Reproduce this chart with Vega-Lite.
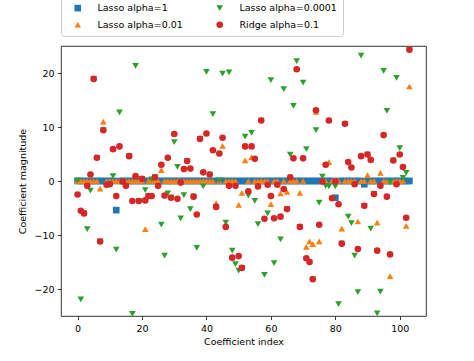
{
"$schema":"https://vega.github.io/schema/vega-lite/v6.json",
"autosize":{"type":"none"},
"width":365,"height":270,
"padding":{"left":61,"top":46,"right":48,"bottom":45},
"background":"white",
"config":{"font":"DejaVu Sans","view":{"stroke":"black","strokeWidth":0.8},
"axis":{"domain":false,"grid":false,"tickColor":"black","tickSize":3.5,"tickWidth":0.8,"labelFontSize":9.5,"labelColor":"black","labelFont":"DejaVu Sans","titleFont":"DejaVu Sans","titleFontSize":9.5,"titleFontWeight":"normal","titleColor":"black","labelPadding":3.5}},
"data":{"values":[
{"model":"Lasso alpha=1","feature":0,"coef":0},{"model":"Lasso alpha=1","feature":1,"coef":0},{"model":"Lasso alpha=1","feature":2,"coef":0},{"model":"Lasso alpha=1","feature":3,"coef":0},{"model":"Lasso alpha=1","feature":4,"coef":0},{"model":"Lasso alpha=1","feature":5,"coef":0},{"model":"Lasso alpha=1","feature":6,"coef":0},{"model":"Lasso alpha=1","feature":7,"coef":0},{"model":"Lasso alpha=1","feature":8,"coef":0},{"model":"Lasso alpha=1","feature":9,"coef":0},
{"model":"Lasso alpha=1","feature":10,"coef":0},{"model":"Lasso alpha=1","feature":11,"coef":0},{"model":"Lasso alpha=1","feature":12,"coef":-5.4},{"model":"Lasso alpha=1","feature":13,"coef":0},{"model":"Lasso alpha=1","feature":14,"coef":0},{"model":"Lasso alpha=1","feature":15,"coef":0},{"model":"Lasso alpha=1","feature":16,"coef":0},{"model":"Lasso alpha=1","feature":17,"coef":0},{"model":"Lasso alpha=1","feature":18,"coef":0},{"model":"Lasso alpha=1","feature":19,"coef":0},
{"model":"Lasso alpha=1","feature":20,"coef":0},{"model":"Lasso alpha=1","feature":21,"coef":0},{"model":"Lasso alpha=1","feature":22,"coef":0},{"model":"Lasso alpha=1","feature":23,"coef":0},{"model":"Lasso alpha=1","feature":24,"coef":0},{"model":"Lasso alpha=1","feature":25,"coef":0},{"model":"Lasso alpha=1","feature":26,"coef":0},{"model":"Lasso alpha=1","feature":27,"coef":0},{"model":"Lasso alpha=1","feature":28,"coef":0},{"model":"Lasso alpha=1","feature":29,"coef":0},
{"model":"Lasso alpha=1","feature":30,"coef":0},{"model":"Lasso alpha=1","feature":31,"coef":0},{"model":"Lasso alpha=1","feature":32,"coef":0},{"model":"Lasso alpha=1","feature":33,"coef":0},{"model":"Lasso alpha=1","feature":34,"coef":0},{"model":"Lasso alpha=1","feature":35,"coef":0},{"model":"Lasso alpha=1","feature":36,"coef":0},{"model":"Lasso alpha=1","feature":37,"coef":0},{"model":"Lasso alpha=1","feature":38,"coef":0},{"model":"Lasso alpha=1","feature":39,"coef":0},
{"model":"Lasso alpha=1","feature":40,"coef":0},{"model":"Lasso alpha=1","feature":41,"coef":0},{"model":"Lasso alpha=1","feature":42,"coef":0},{"model":"Lasso alpha=1","feature":43,"coef":0},{"model":"Lasso alpha=1","feature":44,"coef":0},{"model":"Lasso alpha=1","feature":45,"coef":0},{"model":"Lasso alpha=1","feature":46,"coef":0},{"model":"Lasso alpha=1","feature":47,"coef":0},{"model":"Lasso alpha=1","feature":48,"coef":0},{"model":"Lasso alpha=1","feature":49,"coef":0},
{"model":"Lasso alpha=1","feature":50,"coef":0},{"model":"Lasso alpha=1","feature":51,"coef":0},{"model":"Lasso alpha=1","feature":52,"coef":0},{"model":"Lasso alpha=1","feature":53,"coef":0},{"model":"Lasso alpha=1","feature":54,"coef":0},{"model":"Lasso alpha=1","feature":55,"coef":0},{"model":"Lasso alpha=1","feature":56,"coef":0},{"model":"Lasso alpha=1","feature":57,"coef":0},{"model":"Lasso alpha=1","feature":58,"coef":0},{"model":"Lasso alpha=1","feature":59,"coef":0},
{"model":"Lasso alpha=1","feature":60,"coef":0},{"model":"Lasso alpha=1","feature":61,"coef":0},{"model":"Lasso alpha=1","feature":62,"coef":0},{"model":"Lasso alpha=1","feature":63,"coef":0},{"model":"Lasso alpha=1","feature":64,"coef":0},{"model":"Lasso alpha=1","feature":65,"coef":0},{"model":"Lasso alpha=1","feature":66,"coef":0},{"model":"Lasso alpha=1","feature":67,"coef":0},{"model":"Lasso alpha=1","feature":68,"coef":0},{"model":"Lasso alpha=1","feature":69,"coef":0},
{"model":"Lasso alpha=1","feature":70,"coef":0},{"model":"Lasso alpha=1","feature":71,"coef":0},{"model":"Lasso alpha=1","feature":72,"coef":0},{"model":"Lasso alpha=1","feature":73,"coef":0},{"model":"Lasso alpha=1","feature":74,"coef":0},{"model":"Lasso alpha=1","feature":75,"coef":0},{"model":"Lasso alpha=1","feature":76,"coef":0},{"model":"Lasso alpha=1","feature":77,"coef":0},{"model":"Lasso alpha=1","feature":78,"coef":0},{"model":"Lasso alpha=1","feature":79,"coef":0},
{"model":"Lasso alpha=1","feature":80,"coef":-3.1},{"model":"Lasso alpha=1","feature":81,"coef":0},{"model":"Lasso alpha=1","feature":82,"coef":0},{"model":"Lasso alpha=1","feature":83,"coef":0},{"model":"Lasso alpha=1","feature":84,"coef":0},{"model":"Lasso alpha=1","feature":85,"coef":0},{"model":"Lasso alpha=1","feature":86,"coef":0},{"model":"Lasso alpha=1","feature":87,"coef":0},{"model":"Lasso alpha=1","feature":88,"coef":0},{"model":"Lasso alpha=1","feature":89,"coef":-0.6},
{"model":"Lasso alpha=1","feature":90,"coef":0},{"model":"Lasso alpha=1","feature":91,"coef":0},{"model":"Lasso alpha=1","feature":92,"coef":0},{"model":"Lasso alpha=1","feature":93,"coef":0},{"model":"Lasso alpha=1","feature":94,"coef":0},{"model":"Lasso alpha=1","feature":95,"coef":0},{"model":"Lasso alpha=1","feature":96,"coef":0},{"model":"Lasso alpha=1","feature":97,"coef":0},{"model":"Lasso alpha=1","feature":98,"coef":0},{"model":"Lasso alpha=1","feature":99,"coef":0},
{"model":"Lasso alpha=1","feature":100,"coef":0},{"model":"Lasso alpha=1","feature":101,"coef":0},{"model":"Lasso alpha=1","feature":102,"coef":0},{"model":"Lasso alpha=1","feature":103,"coef":0},

{"model":"Lasso alpha=0.01","feature":0,"coef":0},{"model":"Lasso alpha=0.01","feature":1,"coef":0},{"model":"Lasso alpha=0.01","feature":2,"coef":0},{"model":"Lasso alpha=0.01","feature":3,"coef":0},{"model":"Lasso alpha=0.01","feature":4,"coef":0},{"model":"Lasso alpha=0.01","feature":5,"coef":0},{"model":"Lasso alpha=0.01","feature":6,"coef":0},{"model":"Lasso alpha=0.01","feature":7,"coef":-1.4},{"model":"Lasso alpha=0.01","feature":8,"coef":11.0},{"model":"Lasso alpha=0.01","feature":9,"coef":0},
{"model":"Lasso alpha=0.01","feature":10,"coef":0},{"model":"Lasso alpha=0.01","feature":11,"coef":0},{"model":"Lasso alpha=0.01","feature":12,"coef":0},{"model":"Lasso alpha=0.01","feature":13,"coef":0},{"model":"Lasso alpha=0.01","feature":14,"coef":0},{"model":"Lasso alpha=0.01","feature":15,"coef":0},{"model":"Lasso alpha=0.01","feature":16,"coef":0},{"model":"Lasso alpha=0.01","feature":17,"coef":0},{"model":"Lasso alpha=0.01","feature":18,"coef":0},{"model":"Lasso alpha=0.01","feature":19,"coef":0},
{"model":"Lasso alpha=0.01","feature":20,"coef":0},{"model":"Lasso alpha=0.01","feature":21,"coef":-8.9},{"model":"Lasso alpha=0.01","feature":22,"coef":0},{"model":"Lasso alpha=0.01","feature":23,"coef":0},{"model":"Lasso alpha=0.01","feature":24,"coef":0},{"model":"Lasso alpha=0.01","feature":25,"coef":0},{"model":"Lasso alpha=0.01","feature":26,"coef":2.0},{"model":"Lasso alpha=0.01","feature":27,"coef":0},{"model":"Lasso alpha=0.01","feature":28,"coef":0},{"model":"Lasso alpha=0.01","feature":29,"coef":0},
{"model":"Lasso alpha=0.01","feature":30,"coef":0},{"model":"Lasso alpha=0.01","feature":31,"coef":0},{"model":"Lasso alpha=0.01","feature":32,"coef":0},{"model":"Lasso alpha=0.01","feature":33,"coef":0},{"model":"Lasso alpha=0.01","feature":34,"coef":0},{"model":"Lasso alpha=0.01","feature":35,"coef":0},{"model":"Lasso alpha=0.01","feature":36,"coef":0},{"model":"Lasso alpha=0.01","feature":37,"coef":0},{"model":"Lasso alpha=0.01","feature":38,"coef":0},{"model":"Lasso alpha=0.01","feature":39,"coef":0},
{"model":"Lasso alpha=0.01","feature":40,"coef":0},{"model":"Lasso alpha=0.01","feature":41,"coef":0},{"model":"Lasso alpha=0.01","feature":42,"coef":0},{"model":"Lasso alpha=0.01","feature":43,"coef":-4.1},{"model":"Lasso alpha=0.01","feature":44,"coef":0},{"model":"Lasso alpha=0.01","feature":45,"coef":6.5},{"model":"Lasso alpha=0.01","feature":46,"coef":0},{"model":"Lasso alpha=0.01","feature":47,"coef":0},{"model":"Lasso alpha=0.01","feature":48,"coef":0},{"model":"Lasso alpha=0.01","feature":49,"coef":0},
{"model":"Lasso alpha=0.01","feature":50,"coef":-4.4},{"model":"Lasso alpha=0.01","feature":51,"coef":-2.2},{"model":"Lasso alpha=0.01","feature":52,"coef":3.8},{"model":"Lasso alpha=0.01","feature":53,"coef":0},{"model":"Lasso alpha=0.01","feature":54,"coef":4.4},{"model":"Lasso alpha=0.01","feature":55,"coef":0},{"model":"Lasso alpha=0.01","feature":56,"coef":0},{"model":"Lasso alpha=0.01","feature":57,"coef":0},{"model":"Lasso alpha=0.01","feature":58,"coef":0},{"model":"Lasso alpha=0.01","feature":59,"coef":0},
{"model":"Lasso alpha=0.01","feature":60,"coef":-4.3},{"model":"Lasso alpha=0.01","feature":61,"coef":0},{"model":"Lasso alpha=0.01","feature":62,"coef":0},{"model":"Lasso alpha=0.01","feature":63,"coef":-2.3},{"model":"Lasso alpha=0.01","feature":64,"coef":0},{"model":"Lasso alpha=0.01","feature":65,"coef":-2.0},{"model":"Lasso alpha=0.01","feature":66,"coef":0},{"model":"Lasso alpha=0.01","feature":67,"coef":0},{"model":"Lasso alpha=0.01","feature":68,"coef":0},{"model":"Lasso alpha=0.01","feature":69,"coef":-2.2},
{"model":"Lasso alpha=0.01","feature":70,"coef":0},{"model":"Lasso alpha=0.01","feature":71,"coef":-12.2},{"model":"Lasso alpha=0.01","feature":72,"coef":-11.2},{"model":"Lasso alpha=0.01","feature":73,"coef":-11.7},{"model":"Lasso alpha=0.01","feature":74,"coef":12.8},{"model":"Lasso alpha=0.01","feature":75,"coef":-11.2},{"model":"Lasso alpha=0.01","feature":76,"coef":0},{"model":"Lasso alpha=0.01","feature":77,"coef":0},{"model":"Lasso alpha=0.01","feature":78,"coef":3.5},{"model":"Lasso alpha=0.01","feature":79,"coef":0},
{"model":"Lasso alpha=0.01","feature":80,"coef":0},{"model":"Lasso alpha=0.01","feature":81,"coef":0},{"model":"Lasso alpha=0.01","feature":82,"coef":-8.8},{"model":"Lasso alpha=0.01","feature":83,"coef":0},{"model":"Lasso alpha=0.01","feature":84,"coef":0},{"model":"Lasso alpha=0.01","feature":85,"coef":0},{"model":"Lasso alpha=0.01","feature":86,"coef":0},{"model":"Lasso alpha=0.01","feature":87,"coef":-7.5},{"model":"Lasso alpha=0.01","feature":88,"coef":0},{"model":"Lasso alpha=0.01","feature":89,"coef":0},
{"model":"Lasso alpha=0.01","feature":90,"coef":1.1},{"model":"Lasso alpha=0.01","feature":91,"coef":0},{"model":"Lasso alpha=0.01","feature":92,"coef":0},{"model":"Lasso alpha=0.01","feature":93,"coef":-7.7},{"model":"Lasso alpha=0.01","feature":94,"coef":1.5},{"model":"Lasso alpha=0.01","feature":95,"coef":0},{"model":"Lasso alpha=0.01","feature":96,"coef":0},{"model":"Lasso alpha=0.01","feature":97,"coef":-17.6},{"model":"Lasso alpha=0.01","feature":98,"coef":0},{"model":"Lasso alpha=0.01","feature":99,"coef":0},
{"model":"Lasso alpha=0.01","feature":100,"coef":0},{"model":"Lasso alpha=0.01","feature":101,"coef":0},{"model":"Lasso alpha=0.01","feature":102,"coef":-8.3},{"model":"Lasso alpha=0.01","feature":103,"coef":17.5},

{"model":"Lasso alpha=0.0001","feature":0,"coef":0.1},{"model":"Lasso alpha=0.0001","feature":1,"coef":-21.9},{"model":"Lasso alpha=0.0001","feature":2,"coef":-6.0},{"model":"Lasso alpha=0.0001","feature":3,"coef":-8.9},{"model":"Lasso alpha=0.0001","feature":4,"coef":-1.8},{"model":"Lasso alpha=0.0001","feature":5,"coef":18.9},{"model":"Lasso alpha=0.0001","feature":6,"coef":4.3},{"model":"Lasso alpha=0.0001","feature":7,"coef":-11.2},{"model":"Lasso alpha=0.0001","feature":8,"coef":9.4},{"model":"Lasso alpha=0.0001","feature":9,"coef":-0.7},
{"model":"Lasso alpha=0.0001","feature":10,"coef":-0.6},{"model":"Lasso alpha=0.0001","feature":11,"coef":0.9},{"model":"Lasso alpha=0.0001","feature":12,"coef":-12.7},{"model":"Lasso alpha=0.0001","feature":13,"coef":12.7},{"model":"Lasso alpha=0.0001","feature":14,"coef":-0.1},{"model":"Lasso alpha=0.0001","feature":15,"coef":-0.9},{"model":"Lasso alpha=0.0001","feature":16,"coef":4.6},{"model":"Lasso alpha=0.0001","feature":17,"coef":-24.6},{"model":"Lasso alpha=0.0001","feature":18,"coef":21.3},{"model":"Lasso alpha=0.0001","feature":19,"coef":-3.7},
{"model":"Lasso alpha=0.0001","feature":20,"coef":0.4},{"model":"Lasso alpha=0.0001","feature":21,"coef":-1.7},{"model":"Lasso alpha=0.0001","feature":22,"coef":-2.8},{"model":"Lasso alpha=0.0001","feature":23,"coef":0.3},{"model":"Lasso alpha=0.0001","feature":24,"coef":0.7},{"model":"Lasso alpha=0.0001","feature":25,"coef":-0.9},{"model":"Lasso alpha=0.0001","feature":26,"coef":-8.1},{"model":"Lasso alpha=0.0001","feature":27,"coef":-13.8},{"model":"Lasso alpha=0.0001","feature":28,"coef":-2.3},{"model":"Lasso alpha=0.0001","feature":29,"coef":-3.1},
{"model":"Lasso alpha=0.0001","feature":30,"coef":7.2},{"model":"Lasso alpha=0.0001","feature":31,"coef":2.6},{"model":"Lasso alpha=0.0001","feature":32,"coef":-6.9},{"model":"Lasso alpha=0.0001","feature":33,"coef":-2.6},{"model":"Lasso alpha=0.0001","feature":34,"coef":3.7},{"model":"Lasso alpha=0.0001","feature":35,"coef":-5.2},{"model":"Lasso alpha=0.0001","feature":36,"coef":-2.9},{"model":"Lasso alpha=0.0001","feature":37,"coef":-12.4},{"model":"Lasso alpha=0.0001","feature":38,"coef":7.8},{"model":"Lasso alpha=0.0001","feature":39,"coef":-1.0},
{"model":"Lasso alpha=0.0001","feature":40,"coef":20.2},{"model":"Lasso alpha=0.0001","feature":41,"coef":1.2},{"model":"Lasso alpha=0.0001","feature":42,"coef":12.4},{"model":"Lasso alpha=0.0001","feature":43,"coef":-4.8},{"model":"Lasso alpha=0.0001","feature":44,"coef":0.1},{"model":"Lasso alpha=0.0001","feature":45,"coef":19.9},{"model":"Lasso alpha=0.0001","feature":46,"coef":-7.7},{"model":"Lasso alpha=0.0001","feature":47,"coef":20.1},{"model":"Lasso alpha=0.0001","feature":48,"coef":-12.9},{"model":"Lasso alpha=0.0001","feature":49,"coef":-15.4},
{"model":"Lasso alpha=0.0001","feature":50,"coef":-16.6},{"model":"Lasso alpha=0.0001","feature":51,"coef":-16.1},{"model":"Lasso alpha=0.0001","feature":52,"coef":8.2},{"model":"Lasso alpha=0.0001","feature":53,"coef":-2.7},{"model":"Lasso alpha=0.0001","feature":54,"coef":8.9},{"model":"Lasso alpha=0.0001","feature":55,"coef":-3.7},{"model":"Lasso alpha=0.0001","feature":56,"coef":-8.0},{"model":"Lasso alpha=0.0001","feature":57,"coef":11.2},{"model":"Lasso alpha=0.0001","feature":58,"coef":-17.4},{"model":"Lasso alpha=0.0001","feature":59,"coef":-6.0},
{"model":"Lasso alpha=0.0001","feature":60,"coef":18.7},{"model":"Lasso alpha=0.0001","feature":61,"coef":-15.2},{"model":"Lasso alpha=0.0001","feature":62,"coef":-0.7},{"model":"Lasso alpha=0.0001","feature":63,"coef":-10.8},{"model":"Lasso alpha=0.0001","feature":64,"coef":17.0},{"model":"Lasso alpha=0.0001","feature":65,"coef":-5.2},{"model":"Lasso alpha=0.0001","feature":66,"coef":4.9},{"model":"Lasso alpha=0.0001","feature":67,"coef":13.9},{"model":"Lasso alpha=0.0001","feature":68,"coef":22.2},{"model":"Lasso alpha=0.0001","feature":69,"coef":-8.5},
{"model":"Lasso alpha=0.0001","feature":70,"coef":18.2},{"model":"Lasso alpha=0.0001","feature":71,"coef":5.9},{"model":"Lasso alpha=0.0001","feature":72,"coef":-15.0},{"model":"Lasso alpha=0.0001","feature":73,"coef":-18.2},{"model":"Lasso alpha=0.0001","feature":74,"coef":9.4},{"model":"Lasso alpha=0.0001","feature":75,"coef":-4.0},{"model":"Lasso alpha=0.0001","feature":76,"coef":0.8},{"model":"Lasso alpha=0.0001","feature":77,"coef":-0.9},{"model":"Lasso alpha=0.0001","feature":78,"coef":-1.0},{"model":"Lasso alpha=0.0001","feature":79,"coef":-3.2},
{"model":"Lasso alpha=0.0001","feature":80,"coef":-1.0},{"model":"Lasso alpha=0.0001","feature":81,"coef":-22.8},{"model":"Lasso alpha=0.0001","feature":82,"coef":-11.6},{"model":"Lasso alpha=0.0001","feature":83,"coef":10.6},{"model":"Lasso alpha=0.0001","feature":84,"coef":-6.6},{"model":"Lasso alpha=0.0001","feature":85,"coef":-7.8},{"model":"Lasso alpha=0.0001","feature":86,"coef":-13.8},{"model":"Lasso alpha=0.0001","feature":87,"coef":-20.6},{"model":"Lasso alpha=0.0001","feature":88,"coef":23.2},{"model":"Lasso alpha=0.0001","feature":89,"coef":-4.6},
{"model":"Lasso alpha=0.0001","feature":90,"coef":4.9},{"model":"Lasso alpha=0.0001","feature":91,"coef":-8.8},{"model":"Lasso alpha=0.0001","feature":92,"coef":-2.4},{"model":"Lasso alpha=0.0001","feature":93,"coef":-24.5},{"model":"Lasso alpha=0.0001","feature":94,"coef":-20.5},{"model":"Lasso alpha=0.0001","feature":95,"coef":20.4},{"model":"Lasso alpha=0.0001","feature":96,"coef":13.0},{"model":"Lasso alpha=0.0001","feature":97,"coef":-0.3},{"model":"Lasso alpha=0.0001","feature":98,"coef":3.8},{"model":"Lasso alpha=0.0001","feature":99,"coef":19.1},
{"model":"Lasso alpha=0.0001","feature":100,"coef":6.1},{"model":"Lasso alpha=0.0001","feature":101,"coef":0.6},{"model":"Lasso alpha=0.0001","feature":102,"coef":1.5},{"model":"Lasso alpha=0.0001","feature":103,"coef":24.3},

{"model":"Ridge alpha=0.1","feature":0,"coef":-2.5},{"model":"Ridge alpha=0.1","feature":1,"coef":-5.5},{"model":"Ridge alpha=0.1","feature":2,"coef":-6.0},{"model":"Ridge alpha=0.1","feature":3,"coef":-0.9},{"model":"Ridge alpha=0.1","feature":4,"coef":1.2},{"model":"Ridge alpha=0.1","feature":5,"coef":18.9},{"model":"Ridge alpha=0.1","feature":6,"coef":4.3},{"model":"Ridge alpha=0.1","feature":7,"coef":-11.2},{"model":"Ridge alpha=0.1","feature":8,"coef":9.4},{"model":"Ridge alpha=0.1","feature":9,"coef":-0.7},
{"model":"Ridge alpha=0.1","feature":10,"coef":-0.6},{"model":"Ridge alpha=0.1","feature":11,"coef":5.9},{"model":"Ridge alpha=0.1","feature":12,"coef":-2.8},{"model":"Ridge alpha=0.1","feature":13,"coef":6.4},{"model":"Ridge alpha=0.1","feature":14,"coef":-0.1},{"model":"Ridge alpha=0.1","feature":15,"coef":-0.9},{"model":"Ridge alpha=0.1","feature":16,"coef":4.6},{"model":"Ridge alpha=0.1","feature":17,"coef":-3.7},{"model":"Ridge alpha=0.1","feature":18,"coef":0.9},{"model":"Ridge alpha=0.1","feature":19,"coef":-3.7},
{"model":"Ridge alpha=0.1","feature":20,"coef":0.4},{"model":"Ridge alpha=0.1","feature":21,"coef":-3.6},{"model":"Ridge alpha=0.1","feature":22,"coef":-2.8},{"model":"Ridge alpha=0.1","feature":23,"coef":-2.8},{"model":"Ridge alpha=0.1","feature":24,"coef":0.7},{"model":"Ridge alpha=0.1","feature":25,"coef":-0.9},{"model":"Ridge alpha=0.1","feature":26,"coef":3.0},{"model":"Ridge alpha=0.1","feature":27,"coef":-2.7},{"model":"Ridge alpha=0.1","feature":28,"coef":4.3},{"model":"Ridge alpha=0.1","feature":29,"coef":-3.1},
{"model":"Ridge alpha=0.1","feature":30,"coef":8.7},{"model":"Ridge alpha=0.1","feature":31,"coef":-3.3},{"model":"Ridge alpha=0.1","feature":32,"coef":-0.3},{"model":"Ridge alpha=0.1","feature":33,"coef":2.2},{"model":"Ridge alpha=0.1","feature":34,"coef":3.7},{"model":"Ridge alpha=0.1","feature":35,"coef":2.3},{"model":"Ridge alpha=0.1","feature":36,"coef":-2.9},{"model":"Ridge alpha=0.1","feature":37,"coef":-6.2},{"model":"Ridge alpha=0.1","feature":38,"coef":7.8},{"model":"Ridge alpha=0.1","feature":39,"coef":1.6},
{"model":"Ridge alpha=0.1","feature":40,"coef":8.8},{"model":"Ridge alpha=0.1","feature":41,"coef":1.2},{"model":"Ridge alpha=0.1","feature":42,"coef":5.7},{"model":"Ridge alpha=0.1","feature":43,"coef":-4.8},{"model":"Ridge alpha=0.1","feature":44,"coef":5.1},{"model":"Ridge alpha=0.1","feature":45,"coef":8.0},{"model":"Ridge alpha=0.1","feature":46,"coef":-8.5},{"model":"Ridge alpha=0.1","feature":47,"coef":-0.9},{"model":"Ridge alpha=0.1","feature":48,"coef":-14.2},{"model":"Ridge alpha=0.1","feature":49,"coef":-0.9},
{"model":"Ridge alpha=0.1","feature":50,"coef":-13.9},{"model":"Ridge alpha=0.1","feature":51,"coef":-16.1},{"model":"Ridge alpha=0.1","feature":52,"coef":6.4},{"model":"Ridge alpha=0.1","feature":53,"coef":-1.9},{"model":"Ridge alpha=0.1","feature":54,"coef":6.4},{"model":"Ridge alpha=0.1","feature":55,"coef":4.1},{"model":"Ridge alpha=0.1","feature":56,"coef":-1.0},{"model":"Ridge alpha=0.1","feature":57,"coef":11.2},{"model":"Ridge alpha=0.1","feature":58,"coef":-7.0},{"model":"Ridge alpha=0.1","feature":59,"coef":-0.7},
{"model":"Ridge alpha=0.1","feature":60,"coef":-2.8},{"model":"Ridge alpha=0.1","feature":61,"coef":-6.9},{"model":"Ridge alpha=0.1","feature":62,"coef":-0.7},{"model":"Ridge alpha=0.1","feature":63,"coef":-6.6},{"model":"Ridge alpha=0.1","feature":64,"coef":-1.5},{"model":"Ridge alpha=0.1","feature":65,"coef":-5.2},{"model":"Ridge alpha=0.1","feature":66,"coef":0.7},{"model":"Ridge alpha=0.1","feature":67,"coef":4.2},{"model":"Ridge alpha=0.1","feature":68,"coef":20.7},{"model":"Ridge alpha=0.1","feature":69,"coef":-8.5},
{"model":"Ridge alpha=0.1","feature":70,"coef":4.2},{"model":"Ridge alpha=0.1","feature":71,"coef":-14.3},{"model":"Ridge alpha=0.1","feature":72,"coef":-15.0},{"model":"Ridge alpha=0.1","feature":73,"coef":-18.2},{"model":"Ridge alpha=0.1","feature":74,"coef":13.1},{"model":"Ridge alpha=0.1","feature":75,"coef":-8.1},{"model":"Ridge alpha=0.1","feature":76,"coef":-0.1},{"model":"Ridge alpha=0.1","feature":77,"coef":3.0},{"model":"Ridge alpha=0.1","feature":78,"coef":11.2},{"model":"Ridge alpha=0.1","feature":79,"coef":-3.2},
{"model":"Ridge alpha=0.1","feature":80,"coef":-0.1},{"model":"Ridge alpha=0.1","feature":81,"coef":-4.3},{"model":"Ridge alpha=0.1","feature":82,"coef":-11.6},{"model":"Ridge alpha=0.1","feature":83,"coef":10.6},{"model":"Ridge alpha=0.1","feature":84,"coef":3.5},{"model":"Ridge alpha=0.1","feature":85,"coef":2.5},{"model":"Ridge alpha=0.1","feature":86,"coef":-0.6},{"model":"Ridge alpha=0.1","feature":87,"coef":-12.6},{"model":"Ridge alpha=0.1","feature":88,"coef":4.6},{"model":"Ridge alpha=0.1","feature":89,"coef":-4.6},
{"model":"Ridge alpha=0.1","feature":90,"coef":4.9},{"model":"Ridge alpha=0.1","feature":91,"coef":3.9},{"model":"Ridge alpha=0.1","feature":92,"coef":-2.4},{"model":"Ridge alpha=0.1","feature":93,"coef":-12.9},{"model":"Ridge alpha=0.1","feature":94,"coef":-0.9},{"model":"Ridge alpha=0.1","feature":95,"coef":8.5},{"model":"Ridge alpha=0.1","feature":96,"coef":-2.9},{"model":"Ridge alpha=0.1","feature":97,"coef":-13.6},{"model":"Ridge alpha=0.1","feature":98,"coef":3.8},{"model":"Ridge alpha=0.1","feature":99,"coef":-0.6},
{"model":"Ridge alpha=0.1","feature":100,"coef":4.9},{"model":"Ridge alpha=0.1","feature":101,"coef":2.6},{"model":"Ridge alpha=0.1","feature":102,"coef":-6.8},{"model":"Ridge alpha=0.1","feature":103,"coef":24.3}
]},
"mark":{"type":"point","filled":true,"opacity":1,"size":44},
"encoding":{
"x":{"field":"feature","type":"quantitative","scale":{"domain":[-5.15,108.15],"nice":false,"zero":false},"axis":{"values":[0,20,40,60,80,100],"title":"Coefficient index","titlePadding":4}},
"y":{"field":"coef","type":"quantitative","scale":{"domain":[-25,25],"nice":false},"axis":{"values":[-20,-10,0,10,20],"title":"Coefficient magnitude","titlePadding":6}},
"color":{"field":"model","type":"nominal","scale":{"domain":["Lasso alpha=1","Lasso alpha=0.0001","Lasso alpha=0.01","Ridge alpha=0.1"],"range":["#1f77b4","#2ca02c","#ff7f0e","#d62728"]},
"legend":{"title":null,"orient":"none","legendX":0,"legendY":-49,"columns":2,"direction":"horizontal","symbolSize":44,"symbolOffset":6,"labelOffset":15,"columnPadding":26,"rowPadding":6,"padding":6,"labelFontSize":9.5,"labelColor":"black","labelFont":"DejaVu Sans","strokeColor":"#cccccc","fillColor":"white","cornerRadius":3}},
"shape":{"field":"model","type":"nominal","scale":{"domain":["Lasso alpha=1","Lasso alpha=0.0001","Lasso alpha=0.01","Ridge alpha=0.1"],"range":["square","triangle-down","triangle-up","circle"]}}
}
}
